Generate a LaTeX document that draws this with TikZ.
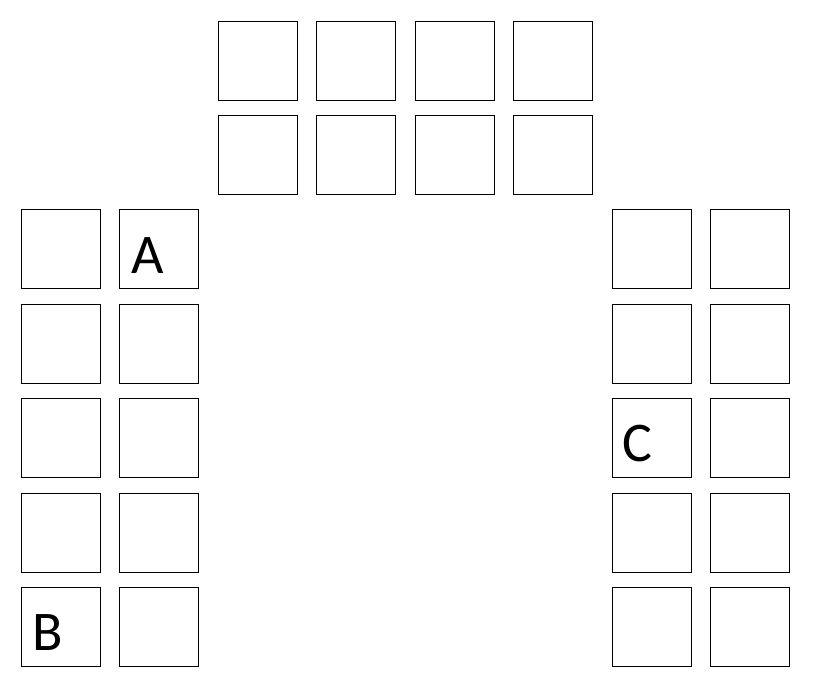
\documentclass[tikz,border=0pt]{standalone}
\usepackage{fontspec}
\setmainfont{Carlito}
\usepackage{tikz}
\usetikzlibrary{positioning}

\begin{document}
\begin{tikzpicture}[x=1pt,y=-1pt]
\useasboundingbox (0,0) rectangle (817,695);
\begin{scope}[every node/.style={rectangle,draw,line width=1pt,minimum size=79pt,inner sep=0pt}]
    \node (t1) at (258,61) {};
    \node (t2) at (356,61) {};
    \node (t3) at (455,61) {};
    \node (t4) at (553,61) {};
    \node (t5) at (258,155) {};
    \node (t6) at (356,155) {};
    \node (t7) at (455,155) {};
    \node (t8) at (553,155) {};
    \node (l1) at (61,249.5) {};
    \node (l2) at (159,249.5) {};
    \node (l3) at (61,344) {};
    \node (l4) at (159,344) {};
    \node (l5) at (61,438) {};
    \node (l6) at (159,438) {};
    \node (l7) at (61,532.5) {};
    \node (l8) at (159,532.5) {};
    \node (l9) at (61,627) {};
    \node (l10) at (159,627) {};
    \node (r1) at (652,249.5) {};
    \node (r2) at (750,249.5) {};
    \node (r3) at (652,344) {};
    \node (r4) at (750,344) {};
    \node (r5) at (652,438) {};
    \node (r6) at (750,438) {};
    \node (r7) at (652,532.5) {};
    \node (r8) at (750,532.5) {};
    \node (r9) at (652,627) {};
    \node (r10) at (750,627) {};
\end{scope}
\begin{scope}[every node/.style={anchor=base west,inner sep=0pt,font=\fontsize{56}{60}\selectfont}]
    \node (la) at ([xshift=12pt,yshift=16.5pt]l2.south west) {A};
    \node (lb) at ([xshift=11pt,yshift=16.5pt]l9.south west) {B};
    \node (lc) at ([xshift=10.5pt,yshift=16.5pt]r5.south west) {C};
\end{scope}
\end{tikzpicture}
\end{document}
